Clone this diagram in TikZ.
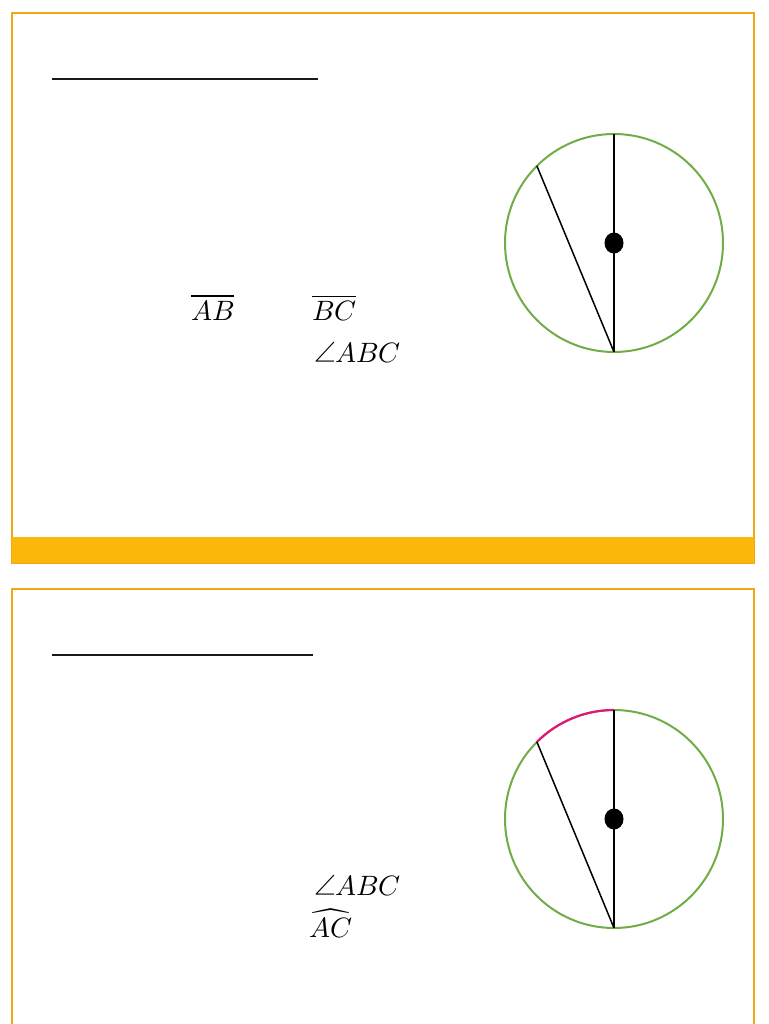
\documentclass[tikz,border=0pt]{standalone}
\usepackage{amsmath}
\usepackage{unicode-math}
\setmathfont{Latin Modern Math}
\usetikzlibrary{calc}
\definecolor{frameorange}{RGB}{240,168,20}
\definecolor{barorange}{RGB}{252,183,11}
\definecolor{circgreen}{RGB}{112,173,71}
\definecolor{arcpink}{RGB}{230,20,120}
\tikzset{
  slideframe/.style={draw=frameorange,line width=1.3pt},
  titlerule/.style={draw=black!90,line width=2pt},
  circ/.style={draw=circgreen,line width=2pt},
  chord/.style={draw=black,line width=1.5pt},
  mlabel/.style={inner sep=0pt,anchor=base west,text depth=0pt,font=\fontsize{28}{32}\selectfont},
}
\begin{document}
\begin{tikzpicture}[x=1pt,y=-1pt]
\useasboundingbox (0,0) rectangle (768,1024);
% ---------- top slide ----------
\draw[slideframe] (12,13) rectangle (754,563);
\fill[barorange] (12,537) rectangle (754,563);
\draw[titlerule] (52,79) -- (318,79);
\node[mlabel] (ab) at (191,320) {$\overline{AB}$};
\node[mlabel] (bc) at (312,320) {$\overline{BC}$};
\node[mlabel] (abc1) at (314,362) {$\angle ABC$};
% circle 1
\coordinate (O1) at (614,243);
\draw[circ] (O1) circle[radius=109];
\coordinate (T1) at ($(O1)+(0,-109)$);
\coordinate (B1) at ($(O1)+(0,109)$);
\coordinate (P1) at ($(O1)+(-77.1,-77.1)$);
\draw[chord] (T1) -- (B1);
\draw[chord] (P1) -- (B1);
\fill[black] (O1) ellipse[x radius=9.5,y radius=10.5];
% ---------- bottom slide ----------
\draw[slideframe] (12,1024) -- (12,589) -- (754,589) -- (754,1024);
\draw[titlerule] (52,655) -- (313,655);
\node[mlabel] (abc2) at (314,895) {$\angle ABC$};
\node[mlabel] (ac) at (309,937) {$\widehat{AC}$};
% circle 2
\coordinate (O2) at (614,819);
\draw[circ] (O2) circle[radius=109];
\coordinate (T2) at ($(O2)+(0,-109)$);
\coordinate (B2) at ($(O2)+(0,109)$);
\coordinate (P2) at ($(O2)+(-77.1,-77.1)$);
\draw[arcpink,line width=2.2pt] (T2) arc[start angle=-90,end angle=-135,radius=109];
\draw[chord] (T2) -- (B2);
\draw[chord] (P2) -- (B2);
\fill[black] (O2) ellipse[x radius=9.5,y radius=10.5];
\end{tikzpicture}
\end{document}
